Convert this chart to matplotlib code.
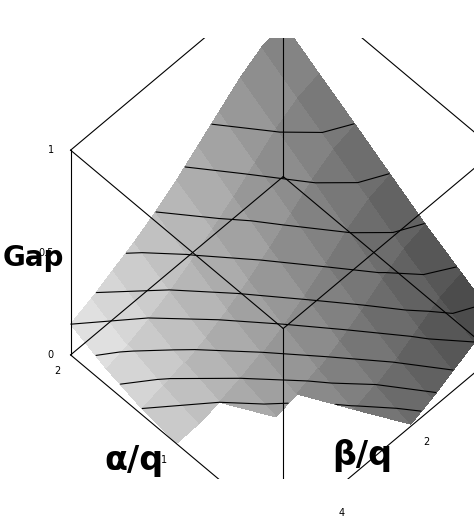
import numpy as np
import matplotlib.pyplot as plt
from matplotlib import cm

# grid of estimated values
alpha = [0.0, 0.33, 0.67, 1.0, 1.33, 1.67, 2.0]
beta = [0.0, 0.5, 1.0, 1.5, 2.0, 2.5, 3.0, 3.5, 4.0, 4.5, 5.0]
nan = np.nan
gap = [
    [0.17, 0.15, 0.10, 0.05, 0.01, nan, nan, nan, nan, nan, nan],
    [0.26, 0.23, 0.17, 0.11, 0.06, 0.025, nan, nan, nan, nan, nan],
    [0.35, 0.32, 0.26, 0.19, 0.13, 0.08, 0.04, 0.015, nan, nan, nan],
    [0.45, 0.42, 0.36, 0.28, 0.21, 0.15, 0.10, 0.06, 0.03, 0.01, 0.005],
    [0.55, 0.52, 0.46, 0.38, 0.30, 0.23, 0.17, 0.12, 0.08, 0.05, 0.03],
    [0.65, 0.62, 0.56, 0.48, 0.40, 0.33, 0.26, 0.20, 0.15, 0.11, 0.08],
    [0.75, 0.72, 0.66, 0.58, 0.50, 0.42, 0.35, 0.29, 0.24, 0.19, 0.15],
]
contour_levels = [0.03, 0.06, 0.1, 0.15, 0.2, 0.27, 0.35, 0.45, 0.55]

A, B = np.meshgrid(alpha, beta, indexing="ij")
G = np.ma.masked_invalid(np.array(gap))

fig = plt.figure(figsize=(4.74, 5.17), dpi=100)
ax = fig.add_axes([0.12, 0.0, 0.93, 1.0], projection="3d", proj_type="ortho",
                  computed_zorder=False)
ax.view_init(elev=57, azim=135)
ax.set_box_aspect((1, 1, 1.25), zoom=1.25)
ax.set_axis_off()

shade = np.clip(0.3 + 0.13 * A + 0.08 * B, 0, 1)
ax.plot_surface(A, B, G, facecolors=cm.gray(shade), shade=False,
                linewidth=0.3, edgecolor="none", antialiased=False,
                rstride=1, cstride=1, zorder=1)
ax.contour(A, B, G, levels=contour_levels, colors="k", linewidths=0.8, zorder=3)

# box edges
a0, a1, b0, b1, z0, z1 = 0, 2, 0, 5, 0, 1
edges = [
    ((a0, b1, z0), (a1, b1, z0)), ((a0, b1, z0), (a0, b0, z0)),
    ((a1, b1, z0), (a1, b1, z1)), ((a0, b0, z0), (a0, b0, z1)),
    ((a0, b1, z0), (a0, b1, z1)),
    ((a1, b1, z1), (a1, b0, z1)), ((a0, b0, z1), (a1, b0, z1)),
    ((a1, b1, z1), (a0, b1, z1)), ((a0, b0, z1), (a0, b1, z1)),
    ((a1, b0, z0), (a1, b1, z0)), ((a1, b0, z0), (a0, b0, z0)),
    ((a1, b0, z0), (a1, b0, z1)),
]
for p, q in edges:
    ax.plot([p[0], q[0]], [p[1], q[1]], [p[2], q[2]], color="k", lw=0.8, zorder=4)

for t in [0, 0.5, 1]:
    ax.text(a1 + 0.08, b1 + 0.2, t, f"{t:g}", fontsize=7, ha="right", va="center", zorder=5)
for t in [0, 1, 2]:
    ax.text(t, b1 + 0.3, 0, str(t), fontsize=7, ha="center", va="top", zorder=5)
for t in [0, 2, 4]:
    ax.text(-0.12, t, 0, str(t), fontsize=7, ha="left", va="top", zorder=5)

ax.set_xlim(a0, a1)
ax.set_ylim(b0, b1)
ax.set_zlim(z0, z1)

fig.text(0.005, 0.485, "Gap", fontsize=20, fontweight="bold")
fig.text(0.22, 0.09, "α/q", fontsize=24, fontweight="bold")
fig.text(0.70, 0.10, "β/q", fontsize=24, fontweight="bold")

fig.savefig("out.png", dpi=100, facecolor="white")
